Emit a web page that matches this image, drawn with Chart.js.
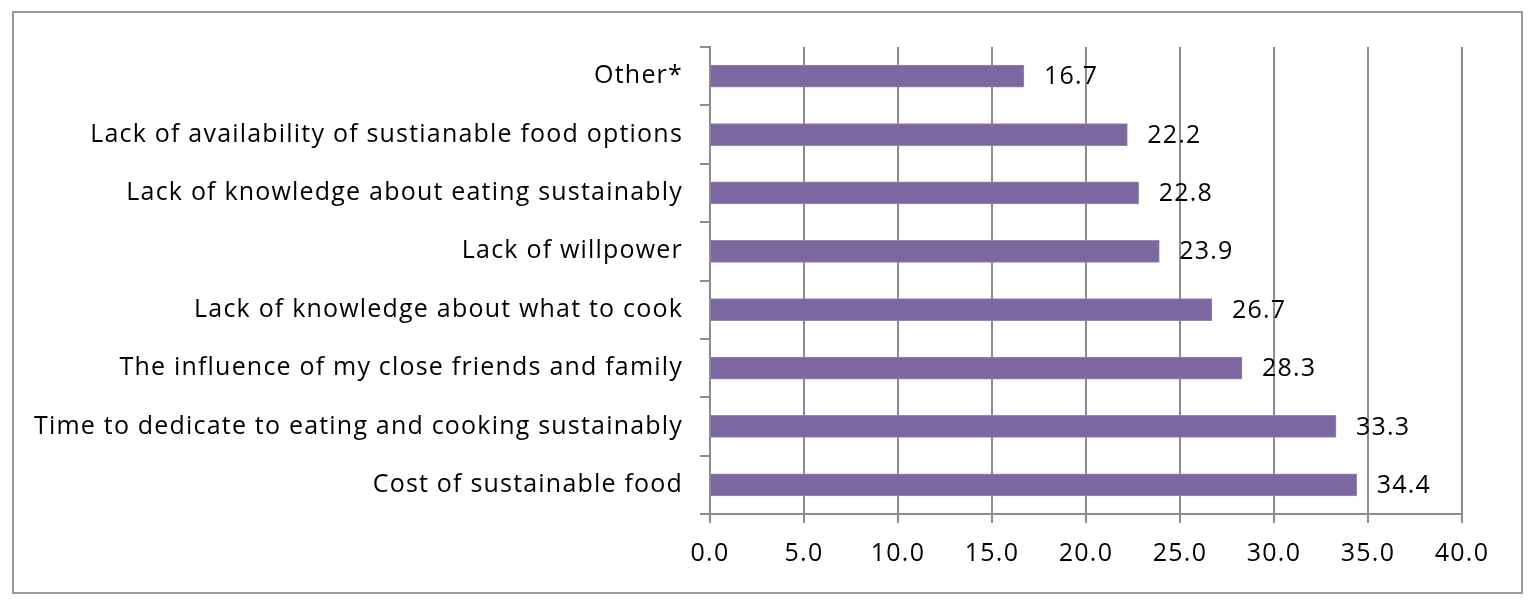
<!DOCTYPE html>
<html>
<head>
<meta charset="utf-8">
<script src="https://cdn.jsdelivr.net/npm/chart.js@4/dist/chart.umd.min.js"></script>
<style>
  html, body { margin: 0; padding: 0; background: #ffffff; }
  #wrap { position: relative; width: 1536px; height: 605px; }
</style>
</head>
<body>
<div id="wrap"><canvas id="c" width="1536" height="605"></canvas></div>
<script>
const categories = [
  "Other*",
  "Lack of availability of sustianable food options",
  "Lack of knowledge about eating sustainably",
  "Lack of willpower",
  "Lack of knowledge about what to cook",
  "The influence of my close friends and family",
  "Time to dedicate to eating and cooking sustainably",
  "Cost of sustainable food"
];
const values = [16.7, 22.2, 22.8, 23.9, 26.7, 28.3, 33.3, 34.4];
const xTicks = [0, 5, 10, 15, 20, 25, 30, 35, 40];

const FONT = "'Open Sans', 'Noto Sans', sans-serif";
const FSIZE = 25;
const SPACING = '1.2px';
const GRID = '#8c8c8c';

const frame = {
  id: 'frame',
  beforeDraw(chart) {
    const ctx = chart.ctx;
    ctx.letterSpacing = SPACING;
    ctx.save();
    ctx.fillStyle = '#ffffff';
    ctx.fillRect(0, 0, chart.width, chart.height);
    ctx.strokeStyle = '#9a9a9a';
    ctx.lineWidth = 2;
    ctx.strokeRect(13, 12, 1509, 581);
    ctx.restore();
  }
};

const valueLabels = {
  id: 'valueLabels',
  afterDatasetsDraw(chart) {
    const ctx = chart.ctx;
    const meta = chart.getDatasetMeta(0);
    ctx.save();
    ctx.letterSpacing = SPACING;
    ctx.font = FSIZE + 'px ' + FONT;
    ctx.fillStyle = '#000000';
    ctx.textAlign = 'left';
    ctx.textBaseline = 'middle';
    meta.data.forEach((bar, i) => {
      ctx.fillText(values[i].toFixed(1), bar.x + 20, bar.y + 1);
    });
    ctx.restore();
  }
};

new Chart(document.getElementById('c'), {
  type: 'bar',
  data: {
    labels: categories,
    datasets: [{
      data: values,
      backgroundColor: '#7d67a0',
      borderColor: '#9886b6',
      borderWidth: 1,
      barThickness: 22
    }]
  },
  options: {
    indexAxis: 'y',
    responsive: false,
    animation: false,
    devicePixelRatio: 1,
    layout: { padding: { top: 47, right: 74, left: 0, bottom: 0 } },
    plugins: { legend: { display: false }, tooltip: { enabled: false } },
    scales: {
      x: {
        min: 0, max: 40,
        afterBuildTicks(scale) { scale.ticks = xTicks.map(v => ({ value: v })); },
        afterFit(scale) { scale.height = 91; },
        ticks: {
          callback: v => Number(v).toFixed(1),
          color: '#000000',
          font: { family: FONT, size: FSIZE },
          padding: 16,
          maxRotation: 0
        },
        grid: { color: GRID, lineWidth: 2, drawTicks: true, tickLength: 9 },
        border: { display: true, color: GRID, width: 2 }
      },
      y: {
        afterFit(scale) { scale.width = 710; },
        ticks: {
          color: '#000000',
          font: { family: FONT, size: FSIZE },
          padding: 17,
          autoSkip: false
        },
        grid: { drawOnChartArea: false, drawTicks: true, tickLength: 10, offset: true, color: GRID, lineWidth: 2 },
        border: { display: true, color: GRID, width: 2 }
      }
    }
  },
  plugins: [frame, valueLabels]
});
</script>
</body>
</html>
